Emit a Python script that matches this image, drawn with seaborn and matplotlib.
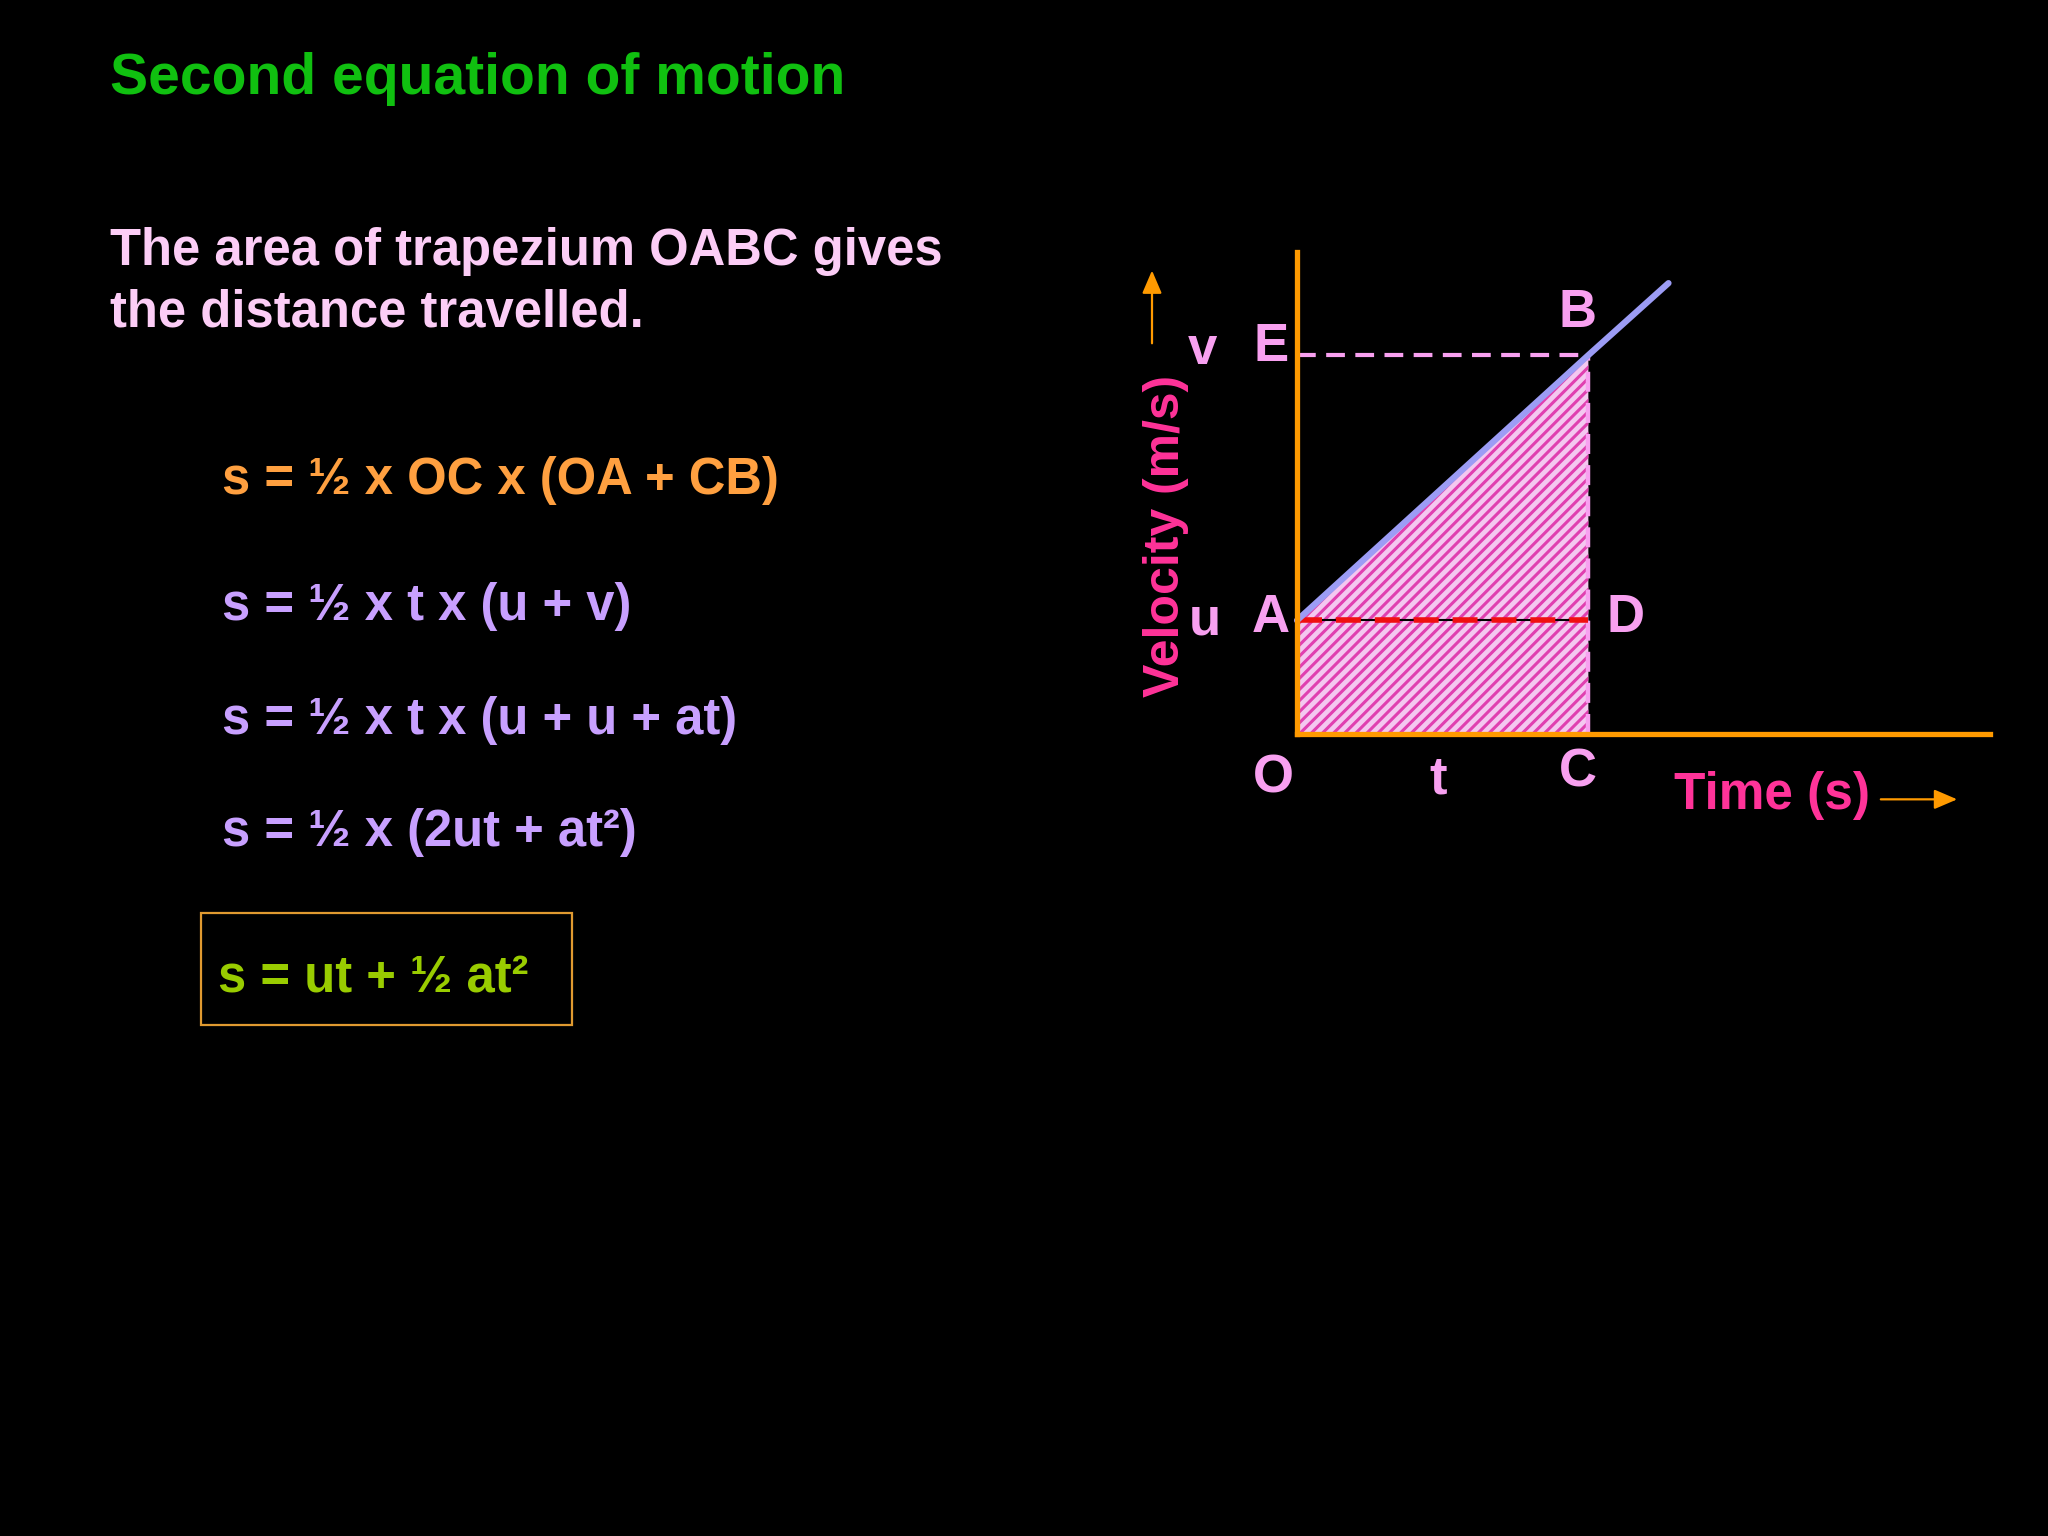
import matplotlib
matplotlib.use("Agg")
import matplotlib.pyplot as plt
from matplotlib.patches import Rectangle, FancyArrowPatch
import seaborn as sns

# v-t graph values (arbitrary units)
t_c = 4.0            # time at C
u = 3.0              # initial velocity (A)
v = 10.0             # final velocity (B)
line_t = [0.0, 4.0, 5.1]
line_v = [3.0, 10.0, 11.9]
trap_t = [0.0, 4.0]
trap_v = [3.0, 10.0]

title = "Second equation of motion"
intro = ["The area of trapezium OABC gives", "the distance travelled."]
steps = ["s = ½ x OC x (OA + CB)",
         "s = ½ x t x (u + v)",
         "s = ½ x t x (u + u + at)",
         "s = ½ x (2ut + at²)"]
result = "s = ut + ½ at²"

sns.set_theme(style="dark", rc={"axes.facecolor": "black", "figure.facecolor": "black",
                                "hatch.linewidth": 2.2})
plt.rcParams['font.family'] = ['Liberation Sans', 'DejaVu Sans']

fig = plt.figure(figsize=(20.48, 15.36), dpi=100)
fig.patch.set_facecolor("black")

# slide text
fig.text(0.0536, 0.9388, title, color="#10C010", fontsize=41, weight="bold", va="baseline")
fig.text(0.0536, 0.8274, intro[0], color="#FCCDF6", fontsize=36.5, weight="bold", va="baseline")
fig.text(0.0536, 0.7874, intro[1], color="#FCCDF6", fontsize=36.5, weight="bold", va="baseline")

step_y = [0.6786, 0.5961, 0.5221, 0.4490]
step_col = ["#FFA040", "#C8A0FF", "#C8A0FF", "#C8A0FF"]
for s, y, c in zip(steps, step_y, step_col):
    fig.text(0.1084, y, s, color=c, fontsize=36.5, weight="bold", va="baseline")

fig.patches.append(Rectangle((0.0982, 0.3325), 0.1811, 0.0731, transform=fig.transFigure,
                             fill=False, edgecolor="#E09A30", lw=1.6))
fig.text(0.1065, 0.3546, result, color="#99CC00", fontsize=36.5, weight="bold", va="baseline")

# graph
ax = fig.add_axes([0.6333, 0.5221, 0.3386, 0.3138])
ax.set_facecolor("black")
ax.set_xlim(0, 9.52)
ax.set_ylim(0, 12.72)
for side in ["top", "right"]:
    ax.spines[side].set_visible(False)
for side in ["left", "bottom"]:
    ax.spines[side].set_color("#FF9A00")
    ax.spines[side].set_linewidth(3.8)
    ax.spines[side].set_zorder(6)
ax.set_xticks([])
ax.set_yticks([])
ax.grid(False)

ax.fill_between(trap_t, trap_v, 0, facecolor="#F4C8F0", edgecolor="#E040B0",
                hatch="///", lw=0, zorder=1)
sns.lineplot(x=line_t, y=line_v, ax=ax, color="#9C9CF5", lw=4.5, zorder=4, clip_on=False)

ax.hlines(v, 0, t_c, colors="#F8A0F0", lw=3, linestyles=(0, (4.5, 2.5)), zorder=3)
ax.vlines(t_c, 0, v, colors="#F8A0F0", lw=3.2, linestyles=(0, (4.5, 2.5)), zorder=3)
ax.hlines(u, 0, t_c, colors="black", lw=1.5, zorder=3)
ax.hlines(u, 0, t_c, colors="#F01010", lw=4, linestyles=(0, (4.5, 2.5)), zorder=3)

lab = dict(color="#F8A0F0", fontsize=38, weight="bold",
           ha="center", va="center", textcoords="offset points", annotation_clip=False)
ax.annotate("E", xy=(0, v), xytext=(-18.8, 5.6), **lab)
ax.annotate("v", xy=(0, v), xytext=(-67.7, 4), **lab)
ax.annotate("A", xy=(0, u), xytext=(-18.8, 2), **lab)
ax.annotate("u", xy=(0, u), xytext=(-66.7, 0), **lab)
ax.annotate("B", xy=(t_c, v), xytext=(-7.5, 30), **lab)
ax.annotate("D", xy=(t_c, u), xytext=(27, 2), **lab)
ax.annotate("O", xy=(0, 0), xytext=(-17, -32), **lab)
ax.annotate("t", xy=(t_c / 2, 0), xytext=(-3, -33), **lab)
ax.annotate("C", xy=(t_c, 0), xytext=(-7.5, -28), **lab)

fig.text(0.5695, 0.6514, "Velocity (m/s)", rotation=90, color="#FF3399", fontsize=36,
         weight="bold", ha="center", va="center")
fig.text(0.8176, 0.4821, "Time (s)", color="#FF3399", fontsize=37, weight="bold",
         ha="left", va="center")

arrow = dict(arrowstyle="-|>,head_length=0.7,head_width=0.3", color="#FF9A00", lw=1.6)
fig.add_artist(FancyArrowPatch((0.5625, 0.7747), (0.5625, 0.8257),
               transform=fig.transFigure, mutation_scale=20, **arrow))
fig.add_artist(FancyArrowPatch((0.917, 0.4796), (0.957, 0.4796),
               transform=fig.transFigure, mutation_scale=20, **arrow))

fig.savefig("out.png", dpi=100, facecolor="black")
